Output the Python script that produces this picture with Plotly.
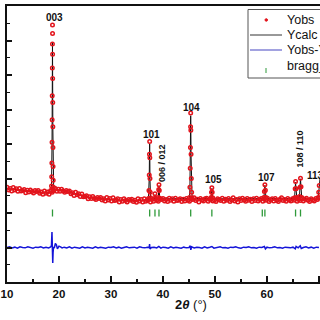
import plotly.graph_objects as go

# ---------------- data ----------------
# observed pattern: background region (2theta, intensity, arb. units)
obs_bg_x = [10.0, 10.3, 10.6, 10.9, 11.2, 11.5, 11.8, 12.1, 12.4, 12.7,
            13.0, 13.3, 13.6, 13.9, 14.2, 14.5, 14.8, 15.1, 15.4, 15.7,
            16.0, 16.3, 16.6, 16.9, 17.2, 17.5, 17.8, 18.1, 18.4, 18.7,
            19.0, 19.3, 19.6, 19.9, 20.2, 20.5, 20.8, 21.1, 21.4, 21.7,
            22.0, 22.3, 22.6, 22.9, 23.2, 23.5, 23.8, 24.1, 24.4, 24.7,
            25.0, 25.3, 25.6, 25.9, 26.2, 26.5, 26.8, 27.1, 27.4, 27.7,
            28.0, 28.3, 28.6, 28.9, 29.2, 29.5, 29.8, 30.1, 30.4, 30.7,
            31.0, 31.3, 31.6, 31.9, 32.2, 32.5, 32.8, 33.1, 33.4, 33.7,
            34.0, 34.3, 34.6, 34.9, 35.2, 35.5, 35.8, 36.1, 36.4, 36.7,
            37.0, 37.3, 37.6, 37.9, 38.2, 38.5, 38.8, 39.1, 39.4, 39.7,
            40.0, 40.3, 40.6, 40.9, 41.2, 41.5, 41.8, 42.1, 42.4, 42.7,
            43.0, 43.3, 43.6, 43.9, 44.2, 44.5, 44.8, 45.1, 45.4, 45.7,
            46.0, 46.3, 46.6, 46.9, 47.2, 47.5, 47.8, 48.1, 48.4, 48.7,
            49.0, 49.3, 49.6, 49.9, 50.2, 50.5, 50.8, 51.1, 51.4, 51.7,
            52.0, 52.3, 52.6, 52.9, 53.2, 53.5, 53.8, 54.1, 54.4, 54.7,
            55.0, 55.3, 55.6, 55.9, 56.2, 56.5, 56.8, 57.1, 57.4, 57.7,
            58.0, 58.3, 58.6, 58.9, 59.2, 59.5, 59.8, 60.1, 60.4, 60.7,
            61.0, 61.3, 61.6, 61.9, 62.2, 62.5, 62.8, 63.1, 63.4, 63.7,
            64.0, 64.3, 64.6, 64.9, 65.2, 65.5, 65.8, 66.1, 66.4, 66.7,
            67.0, 67.3, 67.6, 67.9, 68.2, 68.5, 68.8, 69.1, 69.4, 69.7, 70.0]
obs_bg_y = [2.75, 2.67, 2.71, 2.64, 2.74, 2.67, 2.70, 2.63, 2.71, 2.64,
            2.65, 2.68, 2.59, 2.66, 2.61, 2.67, 2.62, 2.58, 2.65, 2.62,
            2.65, 2.57, 2.61, 2.54, 2.64, 2.57, 2.61, 2.54, 2.65, 2.60,
            2.65, 2.71, 2.63, 2.69, 2.63, 2.69, 2.64, 2.60, 2.65, 2.62,
            2.64, 2.56, 2.59, 2.51, 2.60, 2.53, 2.56, 2.48, 2.55, 2.47,
            2.48, 2.50, 2.41, 2.47, 2.42, 2.48, 2.42, 2.39, 2.45, 2.42,
            2.45, 2.38, 2.41, 2.35, 2.45, 2.38, 2.42, 2.35, 2.44, 2.36,
            2.38, 2.41, 2.32, 2.39, 2.34, 2.41, 2.36, 2.32, 2.39, 2.37,
            2.40, 2.33, 2.37, 2.31, 2.41, 2.35, 2.39, 2.32, 2.41, 2.34,
            2.37, 2.40, 2.32, 2.39, 2.34, 2.41, 2.37, 2.34, 2.41, 2.39,
            2.42, 2.35, 2.39, 2.33, 2.43, 2.37, 2.41, 2.34, 2.43, 2.36,
            2.38, 2.41, 2.33, 2.40, 2.35, 2.42, 2.37, 2.34, 2.41, 2.39,
            2.44, 2.36, 2.40, 2.32, 2.42, 2.38, 2.35, 2.41, 2.43, 2.34,
            2.39, 2.42, 2.35, 2.37, 2.33, 2.41, 2.39, 2.36, 2.43, 2.34,
            2.40, 2.37, 2.42, 2.33, 2.38, 2.44, 2.35, 2.39, 2.32, 2.41,
            2.36, 2.43, 2.38, 2.34, 2.42, 2.37, 2.40, 2.33, 2.41, 2.36,
            2.43, 2.35, 2.39, 2.42, 2.34, 2.40, 2.37, 2.43, 2.33, 2.38,
            2.41, 2.35, 2.42, 2.37, 2.33, 2.40, 2.44, 2.36, 2.39, 2.34,
            2.42, 2.38, 2.35, 2.41, 2.37, 2.43, 2.34, 2.39, 2.36, 2.42,
            2.35, 2.40, 2.43, 2.37, 2.33, 2.41, 2.38, 2.35, 2.42, 2.39, 2.44]

# observed pattern: points on the reflections
obs_pk_x = [18.50, 18.56, 18.60, 18.63, 18.66, 18.68, 18.70, 18.72, 18.74, 18.75,
            18.76, 18.77, 18.78, 18.80, 18.82, 18.84, 18.86, 18.89, 18.93, 18.98,
            37.20, 37.30, 37.36, 37.40, 37.44, 37.47, 37.50, 37.55, 37.62,
            38.36, 38.46, 38.56,
            39.10, 39.18, 39.23, 39.29, 39.38,
            45.10, 45.18, 45.24, 45.28, 45.31, 45.33, 45.36, 45.40, 45.45, 45.52, 45.60,
            49.25, 49.33, 49.40, 49.47, 49.56,
            59.40, 59.50, 59.60, 59.70, 59.80,
            65.30, 65.42, 65.50, 65.60, 65.75, 66.00, 66.25, 66.35, 66.45, 66.55, 66.70,
            69.85, 69.95, 70.05]
obs_pk_y = [2.64, 2.78, 3.05, 3.45, 4.05, 4.70, 5.40, 6.20, 6.90, 7.45,
            7.20, 6.60, 5.90, 5.20, 4.50, 3.90, 3.35, 2.95, 2.75, 2.66,
            2.42, 2.65, 3.10, 3.70, 4.07, 3.60, 3.00, 2.60, 2.44,
            2.42, 2.56, 2.42,
            2.45, 2.68, 2.82, 2.65, 2.43,
            2.45, 2.75, 3.30, 3.90, 4.50, 4.90, 4.40, 3.70, 3.00, 2.60, 2.44,
            2.45, 2.60, 2.73, 2.60, 2.44,
            2.45, 2.62, 2.82, 2.66, 2.45,
            2.44, 2.70, 2.91, 2.70, 2.45, 2.42, 2.48, 2.75, 3.01, 2.76, 2.45,
            2.45, 2.60, 2.80]

# calculated pattern
calc_x = [10, 12, 14, 16, 17.5, 18.3, 18.5, 18.56, 18.6, 18.63, 18.66, 18.68, 18.7,
          18.72, 18.74, 18.75, 18.76, 18.77, 18.78, 18.8, 18.82, 18.84, 18.86, 18.89,
          18.93, 18.98, 19.3, 20, 21, 22, 23, 24, 25, 26, 27, 28, 30, 32, 34, 36,
          37.2, 37.3, 37.36, 37.4, 37.44, 37.47, 37.5, 37.55, 37.62,
          38.36, 38.46, 38.56, 39.1, 39.18, 39.23, 39.29, 39.38,
          45.1, 45.18, 45.24, 45.28, 45.31, 45.33, 45.36, 45.4, 45.45, 45.52, 45.6,
          49.25, 49.33, 49.4, 49.47, 49.56, 59.4, 59.5, 59.6, 59.7, 59.8,
          65.3, 65.42, 65.5, 65.6, 65.75, 66.0, 66.25, 66.35, 66.45, 66.55, 66.7,
          69.7, 69.85, 69.95, 70.05, 70.2]
calc_y = [2.71, 2.67, 2.64, 2.61, 2.58, 2.59, 2.63, 2.76, 3.02, 3.42, 4.00, 4.65, 5.35,
          6.10, 6.70, 6.95, 6.85, 6.45, 5.85, 5.15, 4.45, 3.85, 3.30, 2.92,
          2.74, 2.66, 2.68, 2.67, 2.64, 2.60, 2.56, 2.52, 2.48, 2.45, 2.43, 2.41, 2.39, 2.37, 2.36, 2.36,
          2.38, 2.62, 3.05, 3.65, 4.00, 3.58, 2.98, 2.58, 2.42,
          2.40, 2.53, 2.40, 2.43, 2.66, 2.79, 2.63, 2.41,
          2.42, 2.72, 3.28, 3.88, 4.45, 4.82, 4.38, 3.68, 2.98, 2.58, 2.42,
          2.42, 2.58, 2.71, 2.58, 2.41, 2.42, 2.60, 2.80, 2.64, 2.42,
          2.42, 2.68, 2.89, 2.68, 2.43, 2.41, 2.46, 2.73, 2.99, 2.74, 2.43,
          2.40, 2.44, 2.58, 2.78, 3.00]

# difference curve (offset)
diff_x = [10.0, 10.5, 11.0, 11.5, 12.0, 12.5, 13.0, 13.5, 14.0, 14.5, 15.0, 15.5,
          16.0, 16.5, 17.0, 17.5, 18.0, 18.4, 18.55, 18.65, 18.7, 18.75, 18.8, 18.86,
          18.95, 19.1, 19.3, 19.5, 19.7, 20.0, 20.3, 20.6, 21.0, 21.5, 22.0, 22.5,
          23.0, 23.5, 24.0, 24.5, 25.0, 25.5, 26.0, 26.5, 27.0, 27.5, 28.0, 28.5,
          29.0, 29.5, 30.0, 30.5, 31.0, 31.5, 32.0, 32.5, 33.0, 33.5, 34.0, 34.5,
          35.0, 35.5, 36.0, 36.5, 37.0, 37.35, 37.42, 37.5, 37.8, 38.3, 38.8, 39.2,
          39.6, 40.0, 40.5, 41.0, 41.5, 42.0, 42.5, 43.0, 43.5, 44.0, 44.5, 45.0,
          45.25, 45.35, 45.5, 46.0, 46.5, 47.0, 47.5, 48.0, 48.5, 49.0, 49.4, 49.8,
          50.5, 51.0, 51.5, 52.0, 52.5, 53.0, 53.5, 54.0, 54.5, 55.0, 55.5, 56.0,
          56.5, 57.0, 57.5, 58.0, 58.5, 59.0, 59.5, 59.7, 60.0, 60.5, 61.0, 61.5,
          62.0, 62.5, 63.0, 63.5, 64.0, 64.5, 65.0, 65.45, 65.6, 66.0, 66.4, 66.6,
          67.0, 67.5, 68.0, 68.5, 69.0, 69.5, 70.0]
diff_y = [1.00, 1.02, 0.99, 1.01, 0.98, 1.02, 1.00, 0.99, 1.02, 1.00, 0.98, 1.01,
          1.00, 1.02, 0.99, 1.01, 0.99, 1.02, 1.05, 1.45, 1.25, 0.85, 0.55, 0.85,
          1.02, 0.98, 1.12, 1.08, 0.96, 1.04, 1.02, 0.99, 1.01, 0.99, 1.02, 0.98,
          1.01, 1.00, 0.98, 1.02, 0.99, 1.01, 1.00, 0.98, 1.02, 0.99, 1.01, 1.00,
          0.98, 1.01, 1.00, 1.02, 0.99, 1.01, 0.98, 1.00, 1.02, 0.99, 1.00, 1.01,
          0.98, 1.02, 1.00, 0.99, 1.01, 1.00, 1.10, 0.96, 1.00, 1.01, 0.99, 1.03,
          0.98, 1.01, 1.00, 0.98, 1.02, 0.99, 1.01, 1.00, 0.98, 1.01, 0.99, 1.00,
          1.05, 0.93, 1.02, 0.99, 1.01, 1.00, 0.98, 1.02, 0.99, 1.01, 1.03, 0.98,
          1.00, 1.02, 0.99, 1.00, 0.98, 1.01, 1.00, 1.02, 0.99, 0.98, 1.01, 1.00,
          1.02, 0.99, 1.00, 0.98, 1.01, 1.00, 1.03, 0.96, 1.01, 0.99, 1.00, 1.02,
          0.99, 1.00, 0.98, 1.01, 1.00, 0.99, 1.01, 0.96, 1.03, 0.99, 1.05, 0.97,
          1.00, 1.02, 0.99, 1.01, 0.98, 1.01, 1.00]

# Bragg reflection positions and the level at which their ticks are drawn
bragg_x = [18.75, 37.44, 38.46, 39.23, 45.33, 49.40, 59.10, 59.60, 65.50, 66.45]
bragg_level = 2.0

# reflection labels
hkl_text = ["003", "101", "006 / 012", "104", "105", "107", "108 / 110"]
hkl_x = [19.2, 37.8, 39.8, 45.4, 49.8, 59.9, 66.3]
hkl_y = [7.68, 4.29, 3.45, 5.07, 2.96, 3.04, 3.86]
hkl_rot = [0, 0, -90, 0, 0, 0, -90]

legend_names = ["Yobs", "Ycalc", "Yobs-Ycalc", "bragg_position"]

# ---------------- styling ----------------
RED = "#e3141c"
BLUE = "#1414d8"
GREEN = "#2f9a3a"
FONT = "Liberation Sans, Arial, sans-serif"

W, H = 320, 320
ML, MR, MT, MB = 7, 0, 6, 38
PW, PH = W - ML - MR, H - MT - MB


def px(xp):
    return (xp - ML) / PW


def py(yp):
    return (H - MB - yp) / PH


fig = go.Figure()
fig.add_trace(go.Scatter(x=calc_x, y=calc_y, mode="lines", name=legend_names[1],
                         line=dict(color="#111111", width=1), showlegend=False))
fig.add_trace(go.Scatter(x=obs_bg_x + obs_pk_x, y=obs_bg_y + obs_pk_y, mode="markers",
                         name=legend_names[0], showlegend=False,
                         marker=dict(symbol="circle-open", size=3.5, color=RED,
                                     line=dict(width=1.5, color=RED))))
fig.add_trace(go.Scatter(x=diff_x, y=diff_y, mode="lines", name=legend_names[2],
                         line=dict(color=BLUE, width=1.5), showlegend=False))
fig.add_trace(go.Scatter(x=bragg_x, y=[bragg_level] * len(bragg_x), mode="markers",
                         name=legend_names[3], showlegend=False,
                         marker=dict(symbol="line-ns-open", size=5, color=GREEN,
                                     line=dict(width=1.3, color=GREEN))))

annotations = []
for t, x, y, r in zip(hkl_text, hkl_x, hkl_y, hkl_rot):
    annotations.append(dict(x=x, y=y, xref="x", yref="y", text=f"<b>{t}</b>",
                            showarrow=False, textangle=r,
                            font=dict(family=FONT, size=10 if r == 0 else 9, color="#111")))
annotations.append(dict(x=px(326), y=py(175), xref="paper", yref="paper", text="<b>113</b>",
                        showarrow=False, font=dict(family=FONT, size=10, color="#111")))
annotations.append(dict(x=px(191), y=py(314), xref="paper", yref="paper",
                        text="<b>2<i>θ</i></b> (°)", showarrow=False,
                        font=dict(family=FONT, size=13, color="#111")))

# legend drawn by hand (it is cut by the right edge in the reference)
leg_rows = [20, 35, 50, 66]
for name, yr in zip(legend_names, leg_rows):
    annotations.append(dict(x=px(285), y=py(yr), xref="paper", yref="paper", text=name,
                            showarrow=False, xanchor="left", yanchor="middle",
                            font=dict(family=FONT, size=12.5, color="#111")))

shapes = [
    dict(type="rect", xref="paper", yref="paper", x0=px(248), x1=px(340), y0=py(78), y1=py(9.5),
         line=dict(color="#555", width=1), fillcolor="white", layer="above"),
    dict(type="circle", xref="paper", yref="paper", x0=px(265), x1=px(267.5), y0=py(21.2), y1=py(18.7),
         line=dict(color=RED, width=1), fillcolor=RED, layer="above"),
    dict(type="line", xref="paper", yref="paper", x0=px(250), x1=px(282), y0=py(leg_rows[1]), y1=py(leg_rows[1]),
         line=dict(color="#333", width=1), layer="above"),
    dict(type="line", xref="paper", yref="paper", x0=px(250), x1=px(282), y0=py(leg_rows[2]), y1=py(leg_rows[2]),
         line=dict(color="#7070d0", width=1.3), layer="above"),
    dict(type="line", xref="paper", yref="paper", x0=px(266), x1=px(266), y0=py(73), y1=py(68),
         line=dict(color=GREEN, width=1), layer="above"),
]

fig.update_layout(
    width=W, height=H,
    margin=dict(l=ML, r=MR, t=MT, b=MB, pad=0, autoexpand=False),
    paper_bgcolor="white", plot_bgcolor="white",
    showlegend=False,
    annotations=annotations, shapes=shapes,
    xaxis=dict(range=[10, 70.2], dtick=10, tick0=10, ticks="inside", ticklen=6, tickwidth=1.5,
               tickcolor="#111", showline=True, linecolor="#111", linewidth=2, mirror=True,
               showgrid=False, zeroline=False,
               tickfont=dict(family=FONT, size=11.5, color="#111", weight="bold"),
               minor=dict(dtick=5, tick0=10, ticks="inside", ticklen=3, tickwidth=1.5, tickcolor="#111")),
    yaxis=dict(range=[0, 8], dtick=1, ticks="inside", ticklen=5, tickwidth=1.5, tickcolor="#111",
               showline=True, linecolor="#111", linewidth=2, showticklabels=False,
               showgrid=False, zeroline=False,
               minor=dict(dtick=0.5, ticks="inside", ticklen=3, tickwidth=1.2, tickcolor="#111")),
)

fig.write_html("out.html")
